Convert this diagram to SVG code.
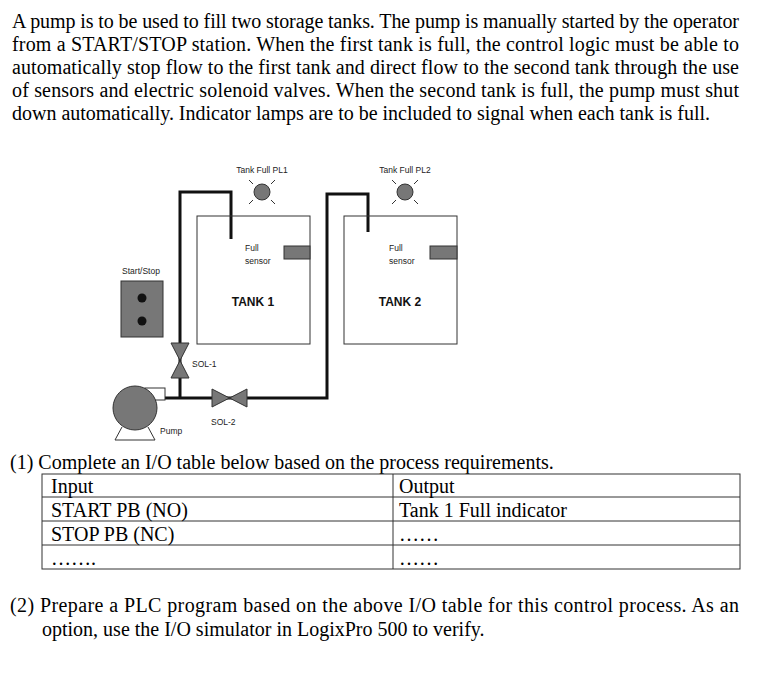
<svg xmlns="http://www.w3.org/2000/svg" width="760" height="676" viewBox="0 0 760 676">
<style>
.t{font-family:"Liberation Serif",serif;font-size:20px;fill:#000}
.s{font-family:"Liberation Sans",sans-serif;font-size:8.5px;fill:#222}
.b{font-family:"Liberation Sans",sans-serif;font-size:12px;font-weight:bold;fill:#111}
.pipe{fill:none;stroke:#111;stroke-width:3}
.thin{fill:none;stroke:#333;stroke-width:1}
.g{fill:#777;stroke:#333;stroke-width:1}
</style>
<rect width="760" height="676" fill="#fff"/>
<g id="intro">
<text class="t" x="12" y="28" textLength="727" lengthAdjust="spacing">A pump is to be used to fill two storage tanks. The pump is manually started by the operator</text>
<text class="t" x="12" y="51" textLength="727" lengthAdjust="spacing">from a START/STOP station. When the first tank is full, the control logic must be able to</text>
<text class="t" x="12" y="74" textLength="727" lengthAdjust="spacing">automatically stop flow to the first tank and direct flow to the second tank through the use</text>
<text class="t" x="12" y="97" textLength="727" lengthAdjust="spacing">of sensors and electric solenoid valves. When the second tank is full, the pump must shut</text>
<text class="t" x="12" y="120" textLength="698" lengthAdjust="spacing">down automatically. Indicator lamps are to be included to signal when each tank is full.</text>
</g>
<g id="connectors">
<polyline class="pipe" points="180,398 180,192 231,192 231,239"/>
<polyline class="pipe" points="165,398 327,398 327,194 368,194 368,232"/>
</g>
<g id="tank1"><rect class="thin" x="197" y="216" width="113" height="128"/>
<rect class="g" x="284" y="246" width="26" height="13"/>
<text class="s" x="245" y="251">Full</text><text class="s" x="245" y="264">sensor</text>
<text class="b" x="253" y="306" text-anchor="middle">TANK 1</text></g>
<g id="tank2"><rect class="thin" x="344" y="216" width="113" height="128"/>
<rect class="g" x="430" y="246" width="27" height="13"/>
<text class="s" x="389" y="251">Full</text><text class="s" x="389" y="264">sensor</text>
<text class="b" x="400" y="306" text-anchor="middle">TANK 2</text></g>
<g id="pl1"><text class="s" x="262" y="173" text-anchor="middle">Tank Full PL1</text>
<circle class="g" cx="262" cy="192" r="8"/>
<path class="thin" d="M249,180 l4,4 M275,180 l-4,4 M249,204 l4,-4 M275,204 l-4,-4"/></g>
<g id="pl2"><text class="s" x="405" y="173" text-anchor="middle">Tank Full PL2</text>
<circle class="g" cx="405" cy="192" r="8"/>
<path class="thin" d="M392,180 l4,4 M418,180 l-4,4 M392,204 l4,-4 M418,204 l-4,-4"/></g>
<g id="startstop"><text class="s" x="141" y="274" text-anchor="middle">Start/Stop</text>
<rect class="g" x="121" y="281" width="42" height="56"/>
<circle cx="142" cy="298" r="4.5" fill="#111"/><circle cx="142" cy="321" r="4.5" fill="#111"/></g>
<g id="sol1"><path class="g" d="M171,343 L189,343 L171,378 L189,378 Z"/>
<text class="s" x="192" y="367">SOL-1</text></g>
<g id="sol2"><path class="g" d="M212,389 L212,407 L247,389 L247,407 Z"/>
<text class="s" x="211" y="425">SOL-2</text></g>
<g id="pump"><rect class="thin" x="145" y="388" width="20" height="12"/>
<path class="thin" d="M122,427 L115,440 L155,440 L148,427"/>
<circle class="g" cx="135" cy="408" r="22"/>
<text class="s" x="160" y="434">Pump</text></g>
<g id="q1"><text class="t" x="10" y="469">(1) Complete an I/O table below based on the process requirements.</text></g>
<g id="table" fill="none" stroke="#333" stroke-width="1">
<rect x="42" y="474" width="698" height="95"/>
<line x1="393" y1="474" x2="393" y2="569"/>
<line x1="42" y1="497" x2="740" y2="497"/>
<line x1="42" y1="521" x2="740" y2="521"/>
<line x1="42" y1="545" x2="740" y2="545"/>
</g>
<g id="cells">
<text class="t" x="51" y="493">Input</text><text class="t" x="399" y="493">Output</text>
<text class="t" x="51" y="517">START PB (NO)</text><text class="t" x="399" y="517">Tank 1 Full indicator</text>
<text class="t" x="51" y="541">STOP PB (NC)</text><text class="t" x="399" y="541">……</text>
<text class="t" x="51" y="565">…….</text><text class="t" x="399" y="565">……</text>
</g>
<g id="q2"><text class="t" x="10" y="612" textLength="729" lengthAdjust="spacing">(2) Prepare a PLC program based on the above I/O table for this control process. As an</text>
<text class="t" x="42" y="636">option, use the I/O simulator in LogixPro 500 to verify.</text></g>
</svg>
